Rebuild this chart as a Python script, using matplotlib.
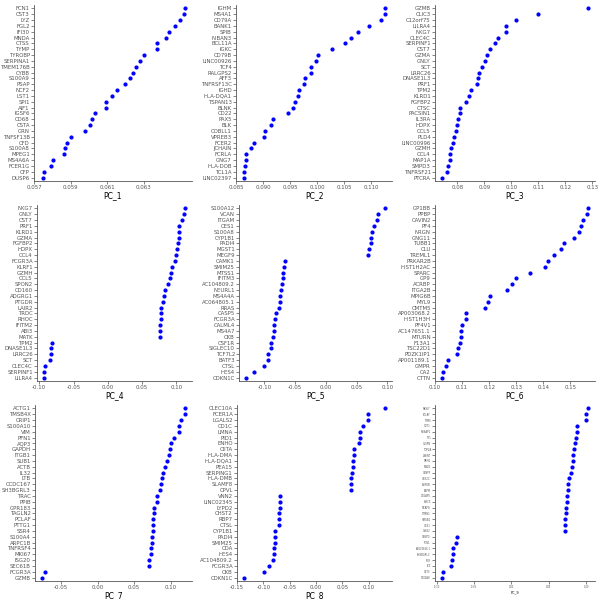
import matplotlib
matplotlib.use('Agg')
import matplotlib.pyplot as plt

# genes listed top to bottom, loadings in the same order
genes_1 = ['FCN1', 'CST3', 'LYZ', 'FGL2', 'IFI30', 'MNDA', 'CTSS', 'TYMP', 'TYROBP', 'SERPINA1',
           'TMEM176B', 'CYBB', 'S100A9', 'PSAP', 'NCF2', 'LST1', 'SPI1', 'AIF1', 'IGSF6', 'CD68',
           'CSTA', 'GRN', 'TNFSF13B', 'CFD', 'S100A8', 'MPEG1', 'MS4A6A', 'FCER1G', 'CFP', 'DUSP6']
load_1 = [0.06525, 0.06519, 0.06498, 0.0647, 0.06437, 0.06423, 0.06372, 0.0637, 0.063, 0.06281,
          0.06256, 0.06244, 0.06225, 0.06196, 0.06154, 0.06125, 0.06095, 0.06093, 0.06033, 0.06016,
          0.06007, 0.05977, 0.05904, 0.05879, 0.05872, 0.05865, 0.05802, 0.05795, 0.05753, 0.05747]

genes_2 = ['IGHM', 'MS4A1', 'CD79A', 'BANK1', 'SPIB', 'NIBAN3', 'BCL11A', 'IGKC', 'CD79B', 'LINC00926',
           'TCF4', 'RALGPS2', 'AFF3', 'TNFRSF13C', 'IGHD', 'HLA-DQA1', 'TSPAN13', 'BLNK', 'CD22', 'PAX5',
           'BLK', 'COBLL1', 'VPREB3', 'FCER2', 'JCHAIN', 'FCRLA', 'GNG7', 'HLA-DOB', 'TCL1A', 'LINC02397']
load_2 = [0.1125, 0.1125, 0.1118, 0.1096, 0.1075, 0.1063, 0.1051, 0.1028, 0.1002, 0.0998,
          0.0989, 0.0988, 0.0977, 0.0976, 0.0966, 0.0964, 0.0959, 0.0955, 0.0946, 0.0918,
          0.0915, 0.0903, 0.0901, 0.0883, 0.0878, 0.0868, 0.0868, 0.0867, 0.0864, 0.0864]

genes_3 = ['GZMB', 'CLIC3', 'C12orf75', 'LILRA4', 'NKG7', 'CLEC4C', 'SERPINF1', 'CST7', 'GZMA', 'GNLY',
           'SCT', 'LRRC26', 'DNASE1L3', 'PRF1', 'TPM2', 'KLRD1', 'FGFBP2', 'CTSC', 'PACSIN1', 'IL3RA',
           'HOPX', 'CCL5', 'PLD4', 'LINC00996', 'GZMH', 'CCL4', 'MAP1A', 'SMPD3', 'TNFRSF21', 'PTCRA']
load_3 = [0.1283, 0.1097, 0.1016, 0.0982, 0.0979, 0.0952, 0.0939, 0.0921, 0.091, 0.0902,
          0.0892, 0.0881, 0.0876, 0.0874, 0.0849, 0.0842, 0.0833, 0.0811, 0.0811, 0.0804,
          0.0799, 0.0795, 0.0788, 0.0784, 0.0778, 0.0773, 0.0771, 0.0767, 0.0761, 0.0744]

genes_4 = ['NKG7', 'GNLY', 'CST7', 'PRF1', 'KLRD1', 'GZMA', 'FGFBP2', 'HOPX', 'CCL4', 'FCGR3A',
           'KLRF1', 'GZMH', 'CCL5', 'SPON2', 'CD160', 'ADGRG1', 'PTGDR', 'LAIR2', 'TRDC', 'RHOC',
           'IFITM2', 'ABI3', 'MATK', 'TPM2', 'DNASE1L3', 'LRRC26', 'SCT', 'CLEC4C', 'SERPINF1', 'LILRA4']
load_4 = [0.1126, 0.1107, 0.1084, 0.1037, 0.1037, 0.1033, 0.1023, 0.1005, 0.1, 0.0981,
          0.093, 0.0926, 0.0912, 0.0884, 0.0833, 0.0823, 0.08, 0.0772, 0.0772, 0.0772,
          0.0767, 0.0767, 0.0763, -0.0809, -0.0823, -0.0833, -0.0847, -0.0916, -0.0926, -0.093]

genes_5 = ['S100A12', 'VCAN', 'ITGAM', 'CES1', 'S100A8', 'CYP1B1', 'PADI4', 'MGST1', 'MEGF9', 'CAMK1',
           'SMIM25', 'MTSS1', 'IFITM3', 'AC104809.2', 'NEURL1', 'MS4A4A', 'AC064805.1', 'RRAS', 'CASP5', 'FCGR3A',
           'CALML4', 'MS4A7', 'CKB', 'CSF1R', 'SIGLEC10', 'TCF7L2', 'BATF3', 'CTSL', 'HES4', 'CDKN1C']
load_5 = [0.0964, 0.0842, 0.0827, 0.0791, 0.075, 0.073, 0.073, 0.0709, 0.0679, -0.0673,
          -0.0679, -0.0694, -0.0704, -0.0719, -0.0735, -0.0745, -0.075, -0.0765, -0.0811, -0.0827,
          -0.0842, -0.0852, -0.0857, -0.0888, -0.0888, -0.0939, -0.0949, -0.1005, -0.1168, -0.1301]

genes_6 = ['GP1BB', 'PPBP', 'CAVIN2', 'PF4', 'NRGN', 'GNG11', 'TUBB1', 'CLU', 'TREML1', 'PRKAR2B',
           'HIST1H2AC', 'SPARC', 'GP9', 'ACRBP', 'ITGA2B', 'MPIG6B', 'MYL9', 'CMTM5', 'AP003068.2', 'HIST1H3H',
           'PF4V1', 'AC147651.1', 'MTURN', 'F13A1', 'TSC22D1', 'PDZK1IP1', 'AP001189.1', 'GMPR', 'CA2', 'CTTN']
load_6 = [0.1564, 0.1563, 0.1547, 0.154, 0.153, 0.1515, 0.1475, 0.1466, 0.1438, 0.1419,
          0.1405, 0.135, 0.1299, 0.1284, 0.1265, 0.1203, 0.1197, 0.1186, 0.1113, 0.1113,
          0.1098, 0.1096, 0.1096, 0.1092, 0.1084, 0.108, 0.1047, 0.104, 0.1028, 0.1027]

genes_7 = ['ACTG1', 'TMSB4X', 'CRIP1', 'S100A10', 'VIM', 'PFN1', 'AQP3', 'GAPDH', 'ITGB1', 'SUB1',
           'ACTB', 'IL32', 'LTB', 'CCDC167', 'SH3BGRL3', 'TRAC', 'PPIB', 'GPR183', 'TAGLN2', 'PCLAF',
           'PTTG1', 'SSR4', 'S100A4', 'ARPC1B', 'TNFRSF4', 'MKI67', 'ISG20', 'SEC61B', 'FCGR3A', 'GZMB']
load_7 = [0.1195, 0.1195, 0.1142, 0.1115, 0.1111, 0.1044, 0.1004, 0.0991, 0.0978, 0.0951,
          0.092, 0.0889, 0.0885, 0.0867, 0.0858, 0.0819, 0.0819, 0.077, 0.077, 0.0765,
          0.0765, 0.0761, 0.0748, 0.0739, 0.0735, 0.073, 0.0708, 0.0704, -0.0726, -0.0761]

genes_8 = ['CLEC10A', 'FCER1A', 'LGALS2', 'CD1C', 'LMNA', 'PID1', 'ENHO', 'CIITA', 'HLA-DMA', 'HLA-DQA1',
           'PEA15', 'SERPING1', 'HLA-DMB', 'SLAMF8', 'CPVL', 'VNN2', 'LINC02345', 'LYPD2', 'CHST2', 'RBP7',
           'CTSL', 'CYP1B1', 'PADI4', 'SMIM25', 'CDA', 'HES4', 'AC104809.2', 'FCGR3A', 'CKB', 'CDKN1C']
load_8 = [0.1307, 0.0982, 0.0982, 0.0898, 0.0837, 0.0831, 0.0807, 0.0711, 0.0711, 0.0705,
          0.0693, 0.0687, 0.0669, 0.0669, 0.0663, -0.0681, -0.0687, -0.0687, -0.0699, -0.0705,
          -0.0711, -0.0777, -0.0789, -0.0789, -0.0795, -0.0807, -0.0825, -0.0886, -0.0994, -0.1367]

# labels of the last panel are too small to read; best guesses
genes_9 = ['MKI67', 'PCLAF', 'TYMS', 'CDT1', 'NUSAP1', 'TK1', 'CLSPN', 'TOP2A', 'ZWINT', 'RRM2',
           'MND1', 'CENPF', 'UBE2C', 'AURKB', 'ASPM', 'DLGAP5', 'BIRC5', 'NCAPG', 'STMN1', 'HMGB2',
           'CDK1', 'GINS2', 'CEBPD', 'FCN1', 'AC020656.1', 'SH3BGRL3', 'FGR', 'LYZ', 'CST3', 'S100A8']
load_9 = [0.1022, 0.1004, 0.1004, 0.0881, 0.0872, 0.0859, 0.0846, 0.0833, 0.0824, 0.0819,
          0.0815, 0.0793, 0.0767, 0.0762, 0.0758, 0.0749, 0.0744, 0.0736, 0.0727, 0.0722,
          0.0722, 0.0718, -0.0731, -0.0736, -0.078, -0.0784, -0.0793, -0.0806, -0.0912, -0.0925]

panels = [(genes_1, load_1), (genes_2, load_2), (genes_3, load_3),
          (genes_4, load_4), (genes_5, load_5), (genes_6, load_6),
          (genes_7, load_7), (genes_8, load_8), (genes_9, load_9)]

ticks = [[0.057, 0.059, 0.061, 0.063],
         [0.085, 0.090, 0.095, 0.100, 0.105, 0.110],
         [0.08, 0.09, 0.10, 0.11, 0.12, 0.13],
         [-0.10, -0.05, 0.00, 0.05, 0.10],
         [-0.10, -0.05, 0.00, 0.05, 0.10],
         [0.10, 0.11, 0.12, 0.13, 0.14, 0.15],
         [-0.05, 0.00, 0.05, 0.10],
         [-0.15, -0.10, -0.05, 0.00, 0.05, 0.10],
         [-0.10, -0.05, 0.00, 0.05, 0.10]]
fmts = ['%.3f', '%.3f', '%.2f', '%.2f', '%.2f', '%.2f', '%.2f', '%.2f', '%.2f']

fig = plt.figure(figsize=(6, 6), dpi=100)
lefts = [[34, 236, 435], [37, 239, 435], [35, 237, 435]]
bottoms = [181, 381, 581]
for i, (genes, vals) in enumerate(panels):
    r, c = divmod(i, 3)
    left = lefts[r][c]
    right = 595 - 200 * (2 - c) - (0 if c == 2 else 3)
    ax = fig.add_axes([left / 600, 1 - bottoms[r] / 600, (right - left) / 600, 176 / 600])
    y = list(range(len(genes), 0, -1))
    ax.scatter(vals, y, s=4, color='blue', zorder=3)
    ax.set_yticks(y)
    small = 1.8 if i == 8 else 3.9
    ax.set_yticklabels(genes, fontsize=small, color='#333333')
    ax.set_ylim(0.4, len(genes) + 0.6)
    ax.set_xticks(ticks[i])
    ax.set_xticklabels([fmts[i] % t for t in ticks[i]], fontsize=small, color='#4d4d4d')
    ax.set_xlabel('PC_%d' % (i + 1), fontsize=2.5 if i == 8 else 5.5, labelpad=1)
    for s in ['top', 'right']:
        ax.spines[s].set_visible(False)
    for s in ['left', 'bottom']:
        ax.spines[s].set_color('#555555')
        ax.spines[s].set_linewidth(0.6)
    ax.tick_params(length=2, width=0.5, pad=1, colors='#555555')

plt.savefig('out.png', dpi=100)
